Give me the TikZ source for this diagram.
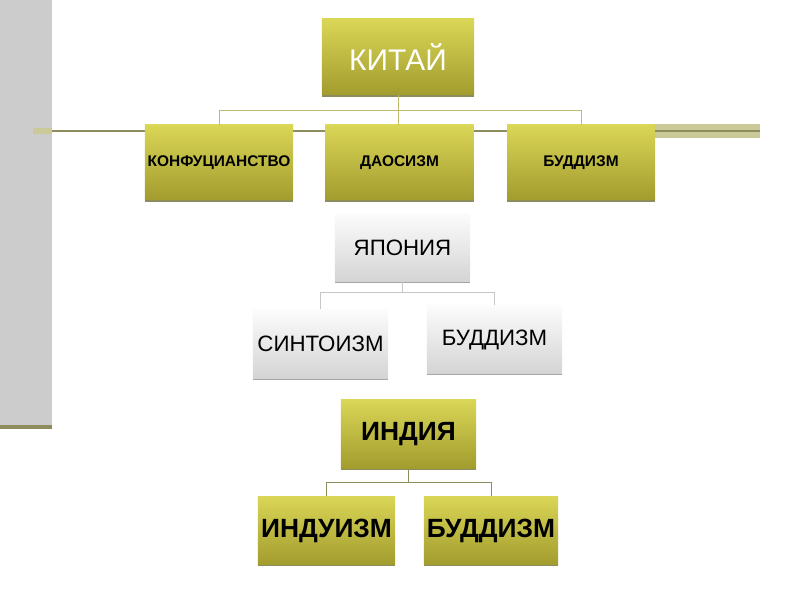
\documentclass[tikz,border=0pt]{standalone}
\usepackage{fontspec}
\setmainfont{Liberation Sans}
\usetikzlibrary{positioning,shadows}
\definecolor{OLtop}{RGB}{218,214,86}
\definecolor{OLbot}{RGB}{162,156,46}
\definecolor{OLline}{RGB}{140,140,92}
\definecolor{OLpale}{RGB}{202,202,152}
\definecolor{OLlink}{RGB}{190,186,110}
\definecolor{GRbar}{RGB}{204,204,204}
\definecolor{GRtop}{RGB}{252,252,252}
\definecolor{GRbot}{RGB}{212,212,212}

\begin{document}
\begin{tikzpicture}[
  x=0.03cm,y=-0.03cm,
  olivebox/.style={rectangle,top color=OLtop,bottom color=OLbot,align=center,inner sep=0pt,
    drop shadow={shadow xshift=0pt,shadow yshift=-1.3pt,fill=OLline,opacity=1}},
  graybox/.style={rectangle,top color=GRtop,bottom color=GRbot,align=center,inner sep=0pt,
    drop shadow={shadow xshift=0pt,shadow yshift=-1.3pt,fill=gray!70,opacity=1}},
  small/.style={minimum width=4.44cm,minimum height=2.25cm,font=\bfseries\fontsize{13.2}{15}\selectfont},
  big/.style={minimum width=4.05cm,minimum height=2.06cm,font=\fontsize{19}{22}\selectfont},
  bigbf/.style={minimum width=4.05cm,minimum height=2.06cm,font=\bfseries\fontsize{22.5}{26}\selectfont},
  link/.style={draw=OLlink,line width=0.8pt},
  glink/.style={draw=gray!45,line width=0.8pt},
  ilink/.style={draw=OLline,line width=0.8pt},
]
\useasboundingbox[fill=white] (0,0) rectangle (800,600);

% Фон: серая полоса и линия
\fill[GRbar] (0,0) rectangle (52,425);
\fill[OLline] (0,425) rectangle (52,429);
\fill[OLpale] (600,124) rectangle (760,138);
\fill[OLpale] (33,128) rectangle (52,134);
\draw[OLline,line width=1.5pt] (52,131) -- (760,131);

% Китай
\node[olivebox,minimum width=4.56cm,minimum height=2.28cm,text=white,font=\fontsize{25.5}{30}\selectfont] (china) at (398,57) {КИТАЙ};
\node[olivebox,small] (konf) at (219,162.5) {КОНФУЦИАНСТВО};
\node[olivebox,small] (dao) at (399.5,162.5) {ДАОСИЗМ};
\node[olivebox,small] (budd1) at (581,162.5) {БУДДИЗМ};

% Япония
\node[graybox,big] (japan) at (402.5,247.5) {ЯПОНИЯ};
\node[graybox,big] (sinto) at (320.5,344) {СИНТОИЗМ};
\node[graybox,big] (budd2) at (494.5,339.5) {БУДДИЗМ};

% Индия
\node[olivebox,bigbf] (india) at (408.5,434) {ИНДИЯ};
\node[olivebox,bigbf,minimum width=4.11cm] (hindu) at (326.5,530.5) {ИНДУИЗМ};
\node[olivebox,bigbf,minimum width=4.02cm] (budd3) at (491,530.5) {БУДДИЗМ};

% Связи
\path (china.south) ++(0,15) coordinate (cbus);
\draw[link] (china.south) -- (china.south |- dao.north);
\draw[link] (konf.north) |- (cbus) -| (budd1.north);

\path (japan.south) ++(0,10) coordinate (jbus);
\draw[glink] (japan.south) -- (jbus);
\draw[glink] (sinto.north) |- (jbus) -| (budd2.north);

\path (india.south) ++(0,14) coordinate (ibus);
\draw[ilink] (india.south) -- (ibus);
\draw[ilink] (hindu.north) |- (ibus) -| (budd3.north);

\end{tikzpicture}
\end{document}
